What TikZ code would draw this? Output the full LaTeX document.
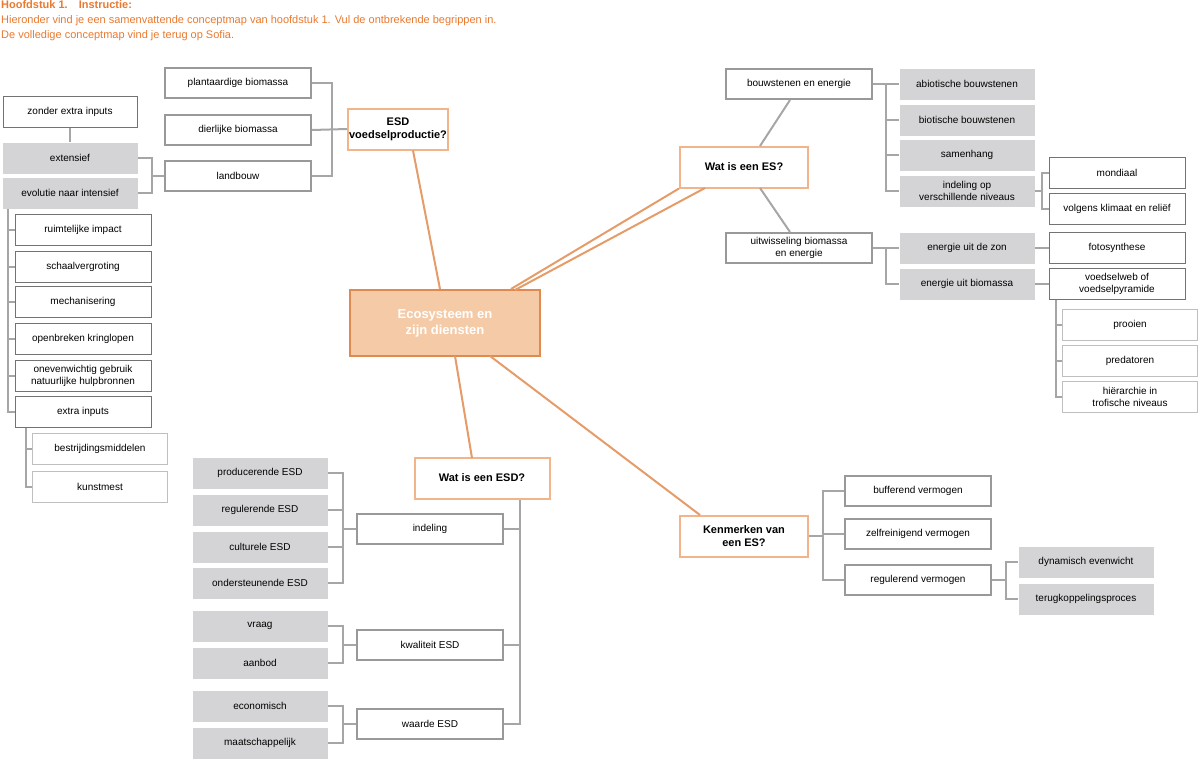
\documentclass[tikz,border=0pt]{standalone}
\usepackage{fontspec}
\setmainfont{Liberation Sans}
\definecolor{org}{HTML}{E8792F}
\definecolor{orl}{HTML}{F2B48A}
\definecolor{ctr}{HTML}{F5CBA7}
\definecolor{ctb}{HTML}{E08A4F}
\definecolor{gfill}{HTML}{D4D4D6}
\definecolor{lgr}{HTML}{A6A6A6}
\begin{document}
\begin{tikzpicture}[x=1pt,y=-1pt,
 every node/.style={font=\fontsize{10}{12}\selectfont, align=center, inner sep=1pt},
 wbox/.style={draw=black!55, line width=1pt, fill=white, minimum width=146pt, minimum height=31pt},
 mbox/.style={draw=black!40, line width=1.6pt, fill=white, minimum width=146pt, minimum height=30pt},
 lbox/.style={draw=black!25, line width=1pt, fill=white, minimum width=135pt, minimum height=31pt},
 gbox/.style={fill=gfill, minimum width=135pt, minimum height=31pt},
 obox/.style={draw=orl, line width=2pt, fill=white, font=\fontsize{11}{13}\selectfont\bfseries, minimum height=41pt},
 con/.style={draw=lgr, line width=2pt},
 thin/.style={draw=lgr, line width=1.2pt},
 ocon/.style={draw=ctb!85, line width=2pt}]
\useasboundingbox (0,0) rectangle (1200,761);
% title
\node[anchor=north west, text=org, align=left, font=\fontsize{11}{15}\selectfont] (title) at (0,-1)
 {\textbf{Hoofdstuk 1.\quad Instructie:}\\Hieronder vind je een samenvattende conceptmap van hoofdstuk 1. Vul de ontbrekende begrippen in.\\De volledige conceptmap vind je terug op Sofia.};
% center
\node[fill=ctr, draw=ctb, line width=2pt, minimum width=190pt, minimum height=66pt, text=white, font=\fontsize{13}{16}\selectfont\bfseries] (c) at (445,323) {Ecosysteem en\\zijn diensten};
% ESD voedselproductie
\node[obox, minimum width=100pt] (esdv) at (398,129) {ESD\\voedselproductie?};
\node[mbox] (plant) at (238,83) {plantaardige biomassa};
\node[mbox] (dier) at (238,130) {dierlijke biomassa};
\node[mbox] (land) at (238,176) {landbouw};
\coordinate (b1) at (332,0);
\draw[con] (plant.east) -- (plant.east -| b1) -- (land.east -| b1) -- (land.east);
\draw[con] (dier.east) -- (esdv.west);
\draw[ocon] (esdv.south) ++(15,0) -- (c.north -| 440,0);
% left column
\node[wbox, minimum width=134pt] (zonder) at (70,112) {zonder extra inputs};
\node[gbox] (ext) at (70,158) {extensief};
\node[gbox] (evo) at (70,193) {evolutie naar intensief};
\draw[thin] (zonder) -- (ext);
\coordinate (b2) at (152,0);
\draw[thin] (ext.east) -- (ext.east -| b2) -- (evo.east -| b2) -- (evo.east);
\draw[thin] (land.west) -- (land.west -| b2);
\node[wbox, minimum width=136pt] (ruim) at (83,230) {ruimtelijke impact};
\node[wbox, minimum width=136pt] (schaal) at (83,267) {schaalvergroting};
\node[wbox, minimum width=136pt] (mech) at (83,302) {mechanisering};
\node[wbox, minimum width=136pt] (open) at (83,339) {openbreken kringlopen};
\node[wbox, minimum width=136pt] (onev) at (83,376) {onevenwichtig gebruik\\natuurlijke hulpbronnen};
\node[wbox, minimum width=136pt] (extra) at (83,412) {extra inputs};
\coordinate (b3) at (8,0);
\draw[thin] (evo.south -| b3) -- (extra.west -| b3) -- (extra.west);
\foreach \n in {ruim,schaal,mech,open,onev} \draw[thin] (\n.west -| b3) -- (\n.west);
\node[lbox] (bestr) at (100,449) {bestrijdingsmiddelen};
\node[lbox] (kunst) at (100,487) {kunstmest};
\coordinate (b4) at (26,0);
\draw[thin] (extra.south -| b4) -- (kunst.west -| b4) -- (kunst.west);
\draw[thin] (bestr.west -| b4) -- (bestr.west);
% Wat is een ES
\node[obox, minimum width=128pt] (es) at (744,167) {Wat is een ES?};
\draw[ocon] (c.north east) ++(-30,0) -- (es.south west) ++(25,0);
\draw[ocon] (515,290) -- (705,188);
\node[mbox] (bouw) at (799,84) {bouwstenen en energie};
\node[mbox] (uitw) at (799,248) {uitwisseling biomassa\\en energie};
\draw[con] (760,146) -- (790,100);
\draw[con] (760,188) -- (790,232);
\node[gbox] (abio) at (967,84) {abiotische bouwstenen};
\node[gbox] (bio) at (967,120) {biotische bouwstenen};
\node[gbox] (samen) at (967,155) {samenhang};
\node[gbox] (indop) at (967,191) {indeling op\\verschillende niveaus};
\coordinate (b5) at (886,0);
\draw[thin] (bouw.east) -- (abio.west);
\draw[thin] (abio.west -| b5) -- (indop.west -| b5) -- (indop.west);
\draw[thin] (bio.west -| b5) -- (bio.west);
\draw[thin] (samen.west -| b5) -- (samen.west);
\node[wbox, minimum width=136pt] (mond) at (1117,173) {mondiaal};
\node[wbox, minimum width=136pt] (volg) at (1117,209) {volgens klimaat en reliëf};
\coordinate (b6) at (1042,0);
\draw[thin] (indop.east) -- (indop.east -| b6);
\draw[thin] (mond.west) -- (mond.west -| b6) -- (volg.west -| b6) -- (volg.west);
\node[gbox] (zon) at (967,248) {energie uit de zon};
\node[gbox] (ebio) at (967,284) {energie uit biomassa};
\draw[thin] (uitw.east) -- (zon.west);
\draw[thin] (zon.west -| b5) -- (ebio.west -| b5) -- (ebio.west);
\node[wbox, minimum width=136pt] (foto) at (1117,248) {fotosynthese};
\node[wbox, minimum width=136pt] (voeds) at (1117,284) {voedselweb of\\voedselpyramide};
\draw[thin] (zon) -- (foto);
\draw[thin] (ebio) -- (voeds);
\node[lbox] (prooi) at (1130,325) {prooien};
\node[lbox] (pred) at (1130,361) {predatoren};
\node[lbox] (hier) at (1130,397) {hiërarchie in\\trofische niveaus};
\coordinate (b7) at (1056,0);
\draw[thin] (voeds.south -| b7) -- (hier.west -| b7) -- (hier.west);
\draw[thin] (prooi.west -| b7) -- (prooi.west);
\draw[thin] (pred.west -| b7) -- (pred.west);
% Wat is een ESD
\node[obox, minimum width=135pt] (esd) at (482,478) {Wat is een ESD?};
\draw[ocon] (455,356) -- (472,458);
\node[mbox] (indl) at (430,529) {indeling};
\node[mbox] (kwal) at (430,645) {kwaliteit ESD};
\node[mbox] (waar) at (430,724) {waarde ESD};
\coordinate (b8) at (520,0);
\draw[con] (esd.south -| b8) -- (waar.east -| b8) -- (waar.east);
\draw[con] (indl.east) -- (indl.east -| b8);
\draw[con] (kwal.east) -- (kwal.east -| b8);
\node[gbox] (prod) at (260,473) {producerende ESD};
\node[gbox] (regu) at (260,510) {regulerende ESD};
\node[gbox] (cult) at (260,547) {culturele ESD};
\node[gbox] (onder) at (260,583) {ondersteunende ESD};
\coordinate (b9) at (343,0);
\draw[thin] (prod.east) -- (prod.east -| b9) -- (onder.east -| b9) -- (onder.east);
\draw[thin] (regu.east) -- (regu.east -| b9);
\draw[thin] (cult.east) -- (cult.east -| b9);
\draw[thin] (indl.west) -- (indl.west -| b9);
\node[gbox] (vraag) at (260,626) {vraag};
\node[gbox] (aanb) at (260,663) {aanbod};
\draw[thin] (vraag.east) -- (vraag.east -| b9) -- (aanb.east -| b9) -- (aanb.east);
\draw[thin] (kwal.west) -- (kwal.west -| b9);
\node[gbox] (econ) at (260,706) {economisch};
\node[gbox] (maat) at (260,743) {maatschappelijk};
\draw[thin] (econ.east) -- (econ.east -| b9) -- (maat.east -| b9) -- (maat.east);
\draw[thin] (waar.west) -- (waar.west -| b9);
% Kenmerken
\node[obox, minimum width=128pt] (ken) at (744,536) {Kenmerken van\\een ES?};
\draw[ocon] (490,356) -- (700,515);
\node[mbox] (buff) at (918,491) {bufferend vermogen};
\node[mbox] (zelf) at (918,534) {zelfreinigend vermogen};
\node[mbox] (regv) at (918,580) {regulerend vermogen};
\coordinate (b10) at (823,0);
\draw[con] (buff.west) -- (buff.west -| b10) -- (regv.west -| b10) -- (regv.west);
\draw[con] (ken.east) -- (ken.east -| b10);
\draw[con] (zelf.west) -- (zelf.west -| b10);
\node[gbox] (dyn) at (1086,562) {dynamisch evenwicht};
\node[gbox] (terug) at (1086,599) {terugkoppelingsproces};
\coordinate (b11) at (1006,0);
\draw[thin] (regv.east) -- (regv.east -| b11);
\draw[thin] (dyn.west) -- (dyn.west -| b11) -- (terug.west -| b11) -- (terug.west);
\end{tikzpicture}
\end{document}
